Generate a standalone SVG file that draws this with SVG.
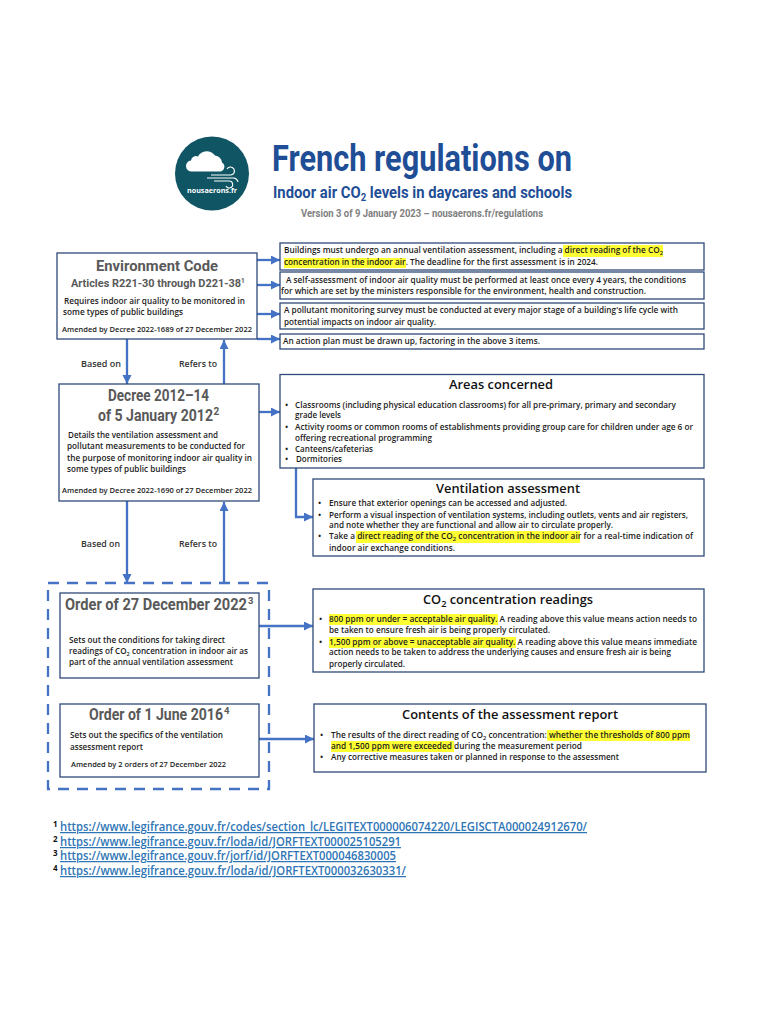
<svg xmlns="http://www.w3.org/2000/svg" width="768" height="1024" viewBox="0 0 768 1024">
<style>
text{font-family:"Open Sans","Liberation Sans",sans-serif;white-space:pre}
.b{font-size:8.5px;font-weight:600;fill:#1c1c1c}
.a{font-size:7.6px;font-weight:600;fill:#1c1c1c}
.l{font-size:8.4px;font-weight:600;fill:#333}
.h{font-size:12.500px;font-weight:600;fill:#111}
.t{font-family:Roboto,"Liberation Sans",sans-serif;font-weight:700;fill:#595959}
.box{fill:#fff;stroke:#2f4a78;stroke-width:1.3}
.hl{fill:#ffff33}
.c{fill:none;stroke:#4472c4;stroke-width:2.300}
.u{font-size:12.500px;font-weight:600;fill:#2e75b6;text-decoration:underline}
.n{font-size:8px;font-weight:700;fill:#111}
</style>
<defs>
<marker id="ah" markerUnits="userSpaceOnUse" markerWidth="10" markerHeight="10" refX="9" refY="4.500" orient="auto"><path d="M0 0L9 4.500L0 9Z" fill="#4472c4"/></marker>
</defs>
<rect width="768" height="1024" fill="#fff"/>

<g id="logo">
<circle cx="212" cy="173.500" r="37" fill="#0f5563"/>
<path d="M192 171.500a5.500 5.500 0 0 1-1-11a5 5 0 0 1 7-4a10 10 0 0 1 17-1a7.500 7.500 0 0 1 7 7a5 5 0 0 1-1 9Z" fill="#fff"/>
<path d="M211 175H231a4 4 0 1 0-4-6M207 178H234a5 5 0 0 1 4 4M214 181H229a3.500 3.500 0 1 1-3 5" fill="none" stroke="#fff" stroke-width="1.100"/>
<text x="187" y="192.500" font-size="7" font-weight="700" fill="#fff" textLength="50" lengthAdjust="spacingAndGlyphs">nousaerons.fr</text>
</g>
<g id="title">
<text class="t" x="272" y="171" font-size="37" style="fill:#1f4e96" textLength="300" lengthAdjust="spacingAndGlyphs">French regulations on</text>
<text class="t" x="273" y="198" font-size="17" style="fill:#1f4e96" textLength="299" lengthAdjust="spacingAndGlyphs">Indoor air CO<tspan font-size="11" baseline-shift="-3">2</tspan> levels in daycares and schools</text>
<text class="t" x="301" y="217" font-size="11.500" style="fill:#7f7f7f" textLength="242" lengthAdjust="spacingAndGlyphs">Version 3 of 9 January 2023 – nousaerons.fr/regulations</text>
</g>

<g id="connectors">
<path class="c" d="M257 260H280" marker-end="url(#ah)"/>
<path class="c" d="M257 285H280" marker-end="url(#ah)"/>
<path class="c" d="M257 314H280" marker-end="url(#ah)"/>
<path class="c" d="M257 339H280" marker-end="url(#ah)"/>
<path class="c" d="M127 339V384" marker-end="url(#ah)"/>
<path class="c" d="M224 384V340" marker-end="url(#ah)"/>
<path class="c" d="M259 412H280" marker-end="url(#ah)"/>
<path class="c" d="M296 468V517H313" marker-end="url(#ah)"/>
<path class="c" d="M127 501V583" marker-end="url(#ah)"/>
<path class="c" d="M224 583V502" marker-end="url(#ah)"/>
<path class="c" d="M259 626H313" marker-end="url(#ah)"/>
<path class="c" d="M259 739H314" marker-end="url(#ah)"/>
<path class="c" d="M48 583H269V789H48Z" stroke-width="2.600" stroke-dasharray="11 8"/>
</g>

<g id="env-code">
<rect class="box" x="57" y="253" width="200" height="86"/>
<text class="t" x="96" y="271" font-size="15" textLength="122" lengthAdjust="spacingAndGlyphs">Environment Code</text>
<text class="t" x="71" y="287" font-size="11.500" textLength="170" lengthAdjust="spacingAndGlyphs">Articles R221-30 through D221-38</text>
<text class="t" x="241" y="283" font-size="6.500">1</text>
<text class="b" x="64" y="304" textLength="181" lengthAdjust="spacingAndGlyphs">Requires indoor air quality to be monitored in</text>
<text class="b" x="63" y="315" textLength="120" lengthAdjust="spacingAndGlyphs">some types of public buildings</text>
<text class="a" x="62" y="332" textLength="190" lengthAdjust="spacingAndGlyphs">Amended by Decree 2022-1689 of 27 December 2022</text>
</g>
<g id="label-based-1"><text class="l" x="81" y="367" textLength="40" lengthAdjust="spacingAndGlyphs">Based on</text></g>
<g id="label-refers-1"><text class="l" x="179" y="367" textLength="38" lengthAdjust="spacingAndGlyphs">Refers to</text></g>

<g id="req-1">
<rect class="box" x="280" y="243" width="424" height="27"/>
<rect class="hl" x="563" y="245" width="100" height="12"/><rect class="hl" x="284" y="258" width="122" height="10"/>
<text class="b" x="284" y="253" textLength="379" lengthAdjust="spacingAndGlyphs">Buildings must undergo an annual ventilation assessment, including a direct reading of the CO<tspan font-size="6" baseline-shift="-2">2</tspan></text>
<text class="b" x="284" y="265" textLength="314" lengthAdjust="spacingAndGlyphs">concentration in the indoor air. The deadline for the first assessment is in 2024.</text>
</g>
<g id="req-2">
<rect class="box" x="280" y="272" width="424" height="27"/>
<text class="b" x="286" y="283" textLength="400" lengthAdjust="spacingAndGlyphs">A self-assessment of indoor air quality must be performed at least once every 4 years, the conditions</text>
<text class="b" x="281" y="294" textLength="365" lengthAdjust="spacingAndGlyphs">for which are set by the ministers responsible for the environment, health and construction.</text>
</g>
<g id="req-3">
<rect class="box" x="280" y="303" width="424" height="26"/>
<text class="b" x="284" y="313" textLength="394" lengthAdjust="spacingAndGlyphs">A pollutant monitoring survey must be conducted at every major stage of a building's life cycle with</text>
<text class="b" x="284" y="325" textLength="152" lengthAdjust="spacingAndGlyphs">potential impacts on indoor air quality.</text>
</g>
<g id="req-4">
<rect class="box" x="280" y="334" width="424" height="15"/>
<text class="b" x="283" y="344" textLength="257" lengthAdjust="spacingAndGlyphs">An action plan must be drawn up, factoring in the above 3 items.</text>
</g>

<g id="decree">
<rect class="box" x="59" y="384" width="200" height="117"/>
<text class="t" x="108" y="401" font-size="16.500" textLength="101" lengthAdjust="spacingAndGlyphs">Decree 2012–14</text>
<text class="t" x="98" y="421" font-size="16.500" textLength="115" lengthAdjust="spacingAndGlyphs">of 5 January 2012</text>
<text class="t" x="213.500" y="415" font-size="10">2</text>
<text class="b" x="68" y="438" textLength="150" lengthAdjust="spacingAndGlyphs">Details the ventilation assessment and</text>
<text class="b" x="67" y="449" textLength="178" lengthAdjust="spacingAndGlyphs">pollutant measurements to be conducted for</text>
<text class="b" x="67" y="461" textLength="185" lengthAdjust="spacingAndGlyphs">the purpose of monitoring indoor air quality in</text>
<text class="b" x="67" y="472" textLength="119" lengthAdjust="spacingAndGlyphs">some types of public buildings</text>
<text class="a" x="62" y="493" textLength="190" lengthAdjust="spacingAndGlyphs">Amended by Decree 2022-1690 of 27 December 2022</text>
</g>
<g id="label-based-2"><text class="l" x="81" y="547" textLength="39" lengthAdjust="spacingAndGlyphs">Based on</text></g>
<g id="label-refers-2"><text class="l" x="179" y="547" textLength="38" lengthAdjust="spacingAndGlyphs">Refers to</text></g>

<g id="areas">
<rect class="box" x="280" y="374.500" width="424" height="93.500"/>
<text class="h" x="449" y="389" textLength="104" lengthAdjust="spacingAndGlyphs">Areas concerned</text>
<text class="b" x="285" y="408">•</text><text class="b" x="295" y="408" textLength="381" lengthAdjust="spacingAndGlyphs">Classrooms (including physical education classrooms) for all pre-primary, primary and secondary</text>
<text class="b" x="295" y="418" textLength="46" lengthAdjust="spacingAndGlyphs">grade levels</text>
<text class="b" x="285" y="430">•</text><text class="b" x="295" y="430" textLength="398" lengthAdjust="spacingAndGlyphs">Activity rooms or common rooms of establishments providing group care for children under age 6 or</text>
<text class="b" x="295" y="441" textLength="137" lengthAdjust="spacingAndGlyphs">offering recreational programming</text>
<text class="b" x="285" y="452">•</text><text class="b" x="295" y="452" textLength="78" lengthAdjust="spacingAndGlyphs">Canteens/cafeterias</text>
<text class="b" x="285" y="462">•</text><text class="b" x="296" y="462" textLength="46" lengthAdjust="spacingAndGlyphs">Dormitories</text>
</g>

<g id="ventilation">
<rect class="box" x="313" y="479" width="391" height="77"/>
<rect class="hl" x="356" y="531" width="224" height="12"/>
<text class="h" x="436" y="493" textLength="144" lengthAdjust="spacingAndGlyphs">Ventilation assessment</text>
<text class="b" x="318" y="506">•</text><text class="b" x="329" y="506" textLength="238" lengthAdjust="spacingAndGlyphs">Ensure that exterior openings can be accessed and adjusted.</text>
<text class="b" x="318" y="518">•</text><text class="b" x="329" y="518" textLength="359" lengthAdjust="spacingAndGlyphs">Perform a visual inspection of ventilation systems, including outlets, vents and air registers,</text>
<text class="b" x="329" y="528" textLength="284" lengthAdjust="spacingAndGlyphs">and note whether they are functional and allow air to circulate properly.</text>
<text class="b" x="318" y="539">•</text><text class="b" x="329" y="539" textLength="364" lengthAdjust="spacingAndGlyphs">Take a direct reading of the CO<tspan font-size="6" baseline-shift="-2">2</tspan> concentration in the indoor air for a real-time indication of</text>
<text class="b" x="329" y="551" textLength="126" lengthAdjust="spacingAndGlyphs">indoor air exchange conditions.</text>
</g>

<g id="order-2022">
<rect class="box" x="60" y="593" width="199" height="85"/>
<text class="t" x="65" y="610" font-size="16" textLength="182" lengthAdjust="spacingAndGlyphs">Order of 27 December 2022</text>
<text class="t" x="248" y="604" font-size="9.500">3</text>
<text class="b" x="69" y="643" textLength="156" lengthAdjust="spacingAndGlyphs">Sets out the conditions for taking direct</text>
<text class="b" x="69" y="654" textLength="179" lengthAdjust="spacingAndGlyphs">readings of CO<tspan font-size="6" baseline-shift="-2">2</tspan> concentration in indoor air as</text>
<text class="b" x="69" y="665" textLength="164" lengthAdjust="spacingAndGlyphs">part of the annual ventilation assessment</text>
</g>
<g id="order-2016">
<rect class="box" x="60" y="704" width="199" height="73"/>
<text class="t" x="89" y="720" font-size="16" textLength="134" lengthAdjust="spacingAndGlyphs">Order of 1 June 2016</text>
<text class="t" x="224" y="714" font-size="9.500">4</text>
<text class="b" x="70" y="738" textLength="153" lengthAdjust="spacingAndGlyphs">Sets out the specifics of the ventilation</text>
<text class="b" x="70" y="750" textLength="73" lengthAdjust="spacingAndGlyphs">assessment report</text>
<text class="a" x="71" y="767" textLength="155" lengthAdjust="spacingAndGlyphs">Amended by 2 orders of 27 December 2022</text>
</g>

<g id="co2-readings">
<rect class="box" x="313" y="589" width="391" height="83"/>
<rect class="hl" x="329" y="614" width="169" height="11"/><rect class="hl" x="329" y="637" width="187" height="11"/>
<text class="h" x="423" y="604" textLength="170" lengthAdjust="spacingAndGlyphs">CO<tspan font-size="9" baseline-shift="-3">2</tspan> concentration readings</text>
<text class="b" x="319" y="622">•</text><text class="b" x="329" y="622" textLength="368" lengthAdjust="spacingAndGlyphs">800 ppm or under = acceptable air quality. A reading above this value means action needs to</text>
<text class="b" x="329" y="633" textLength="221" lengthAdjust="spacingAndGlyphs">be taken to ensure fresh air is being properly circulated.</text>
<text class="b" x="319" y="645">•</text><text class="b" x="329" y="645" textLength="368" lengthAdjust="spacingAndGlyphs">1,500 ppm or above = unacceptable air quality. A reading above this value means immediate</text>
<text class="b" x="329" y="655" textLength="342" lengthAdjust="spacingAndGlyphs">action needs to be taken to address the underlying causes and ensure fresh air is being</text>
<text class="b" x="329" y="667" textLength="76" lengthAdjust="spacingAndGlyphs">properly circulated.</text>
</g>

<g id="report">
<rect class="box" x="314" y="704" width="392" height="68"/>
<rect class="hl" x="547" y="730" width="143" height="11"/><rect class="hl" x="331" y="741" width="123" height="11"/>
<text class="h" x="402" y="719" textLength="216" lengthAdjust="spacingAndGlyphs">Contents of the assessment report</text>
<text class="b" x="320" y="738">•</text><text class="b" x="331" y="738" textLength="359" lengthAdjust="spacingAndGlyphs">The results of the direct reading of CO<tspan font-size="6" baseline-shift="-2">2</tspan> concentration: whether the thresholds of 800 ppm</text>
<text class="b" x="331" y="749" textLength="251" lengthAdjust="spacingAndGlyphs">and 1,500 ppm were exceeded during the measurement period</text>
<text class="b" x="320" y="760">•</text><text class="b" x="331" y="760" textLength="288" lengthAdjust="spacingAndGlyphs">Any corrective measures taken or planned in response to the assessment</text>
</g>

<g id="footnotes">
<text class="n" x="53" y="827">1</text><text class="u" x="60" y="831" textLength="527" lengthAdjust="spacingAndGlyphs">https://www.legifrance.gouv.fr/codes/section_lc/LEGITEXT000006074220/LEGISCTA000024912670/</text>
<text class="n" x="53" y="842">2</text><text class="u" x="60" y="846" textLength="341" lengthAdjust="spacingAndGlyphs">https://www.legifrance.gouv.fr/loda/id/JORFTEXT000025105291</text>
<text class="n" x="53" y="856">3</text><text class="u" x="60" y="860" textLength="336" lengthAdjust="spacingAndGlyphs">https://www.legifrance.gouv.fr/jorf/id/JORFTEXT000046830005</text>
<text class="n" x="53" y="871">4</text><text class="u" x="60" y="875" textLength="346" lengthAdjust="spacingAndGlyphs">https://www.legifrance.gouv.fr/loda/id/JORFTEXT000032630331/</text>
</g>
</svg>
